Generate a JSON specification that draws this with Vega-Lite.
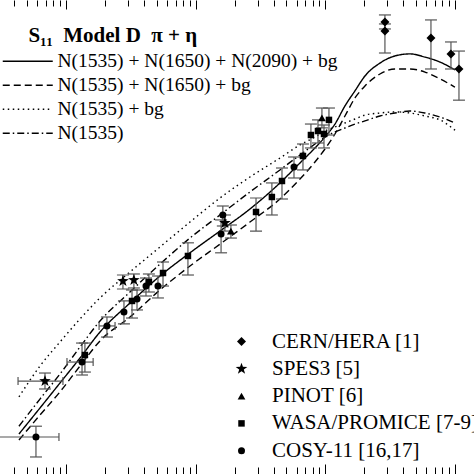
{
  "$schema": "https://vega.github.io/schema/vega-lite/v6.json",
  "width": 474,
  "height": 474,
  "autosize": "none",
  "padding": 0,
  "background": "white",
  "config": {
    "view": {"stroke": null},
    "axis": {"tickColor": "black", "tickWidth": 1}
  },
  "datasets": {
    "crv": [
      {"m": "N(1535) + N(1650) + N(2090) + bg", "q": 0.434, "s": 0.1047},
      {"m": "N(1535) + N(1650) + N(2090) + bg", "q": 0.63, "s": 0.156},
      {"m": "N(1535) + N(1650) + N(2090) + bg", "q": 0.899, "s": 0.229},
      {"m": "N(1535) + N(1650) + N(2090) + bg", "q": 1.282, "s": 0.336},
      {"m": "N(1535) + N(1650) + N(2090) + bg", "q": 1.829, "s": 0.501},
      {"m": "N(1535) + N(1650) + N(2090) + bg", "q": 3.115, "s": 0.782},
      {"m": "N(1535) + N(1650) + N(2090) + bg", "q": 5.305, "s": 1.184},
      {"m": "N(1535) + N(1650) + N(2090) + bg", "q": 9.039, "s": 1.69},
      {"m": "N(1535) + N(1650) + N(2090) + bg", "q": 15.39, "s": 2.36},
      {"m": "N(1535) + N(1650) + N(2090) + bg", "q": 26.22, "s": 3.311},
      {"m": "N(1535) + N(1650) + N(2090) + bg", "q": 44.66, "s": 4.94},
      {"m": "N(1535) + N(1650) + N(2090) + bg", "q": 63.71, "s": 6.71},
      {"m": "N(1535) + N(1650) + N(2090) + bg", "q": 83.14, "s": 8.45},
      {"m": "N(1535) + N(1650) + N(2090) + bg", "q": 99.29, "s": 10},
      {"m": "N(1535) + N(1650) + N(2090) + bg", "q": 118.6, "s": 12.2},
      {"m": "N(1535) + N(1650) + N(2090) + bg", "q": 141.6, "s": 16.1},
      {"m": "N(1535) + N(1650) + N(2090) + bg", "q": 169.1, "s": 20.3},
      {"m": "N(1535) + N(1650) + N(2090) + bg", "q": 202, "s": 25.5},
      {"m": "N(1535) + N(1650) + N(2090) + bg", "q": 263.7, "s": 31.1},
      {"m": "N(1535) + N(1650) + N(2090) + bg", "q": 344, "s": 34.7},
      {"m": "N(1535) + N(1650) + N(2090) + bg", "q": 449, "s": 35.8},
      {"m": "N(1535) + N(1650) + N(2090) + bg", "q": 586.2, "s": 34.1},
      {"m": "N(1535) + N(1650) + N(2090) + bg", "q": 764.9, "s": 31.6},
      {"m": "N(1535) + N(1650) + N(2090) + bg", "q": 998.2, "s": 28},
      {"m": "N(1535) + N(1650) + bg", "q": 0.434, "s": 0.0955},
      {"m": "N(1535) + N(1650) + bg", "q": 0.63, "s": 0.14},
      {"m": "N(1535) + N(1650) + bg", "q": 0.899, "s": 0.2},
      {"m": "N(1535) + N(1650) + bg", "q": 1.282, "s": 0.297},
      {"m": "N(1535) + N(1650) + bg", "q": 1.829, "s": 0.437},
      {"m": "N(1535) + N(1650) + bg", "q": 3.115, "s": 0.631},
      {"m": "N(1535) + N(1650) + bg", "q": 5.305, "s": 0.955},
      {"m": "N(1535) + N(1650) + bg", "q": 9.039, "s": 1.38},
      {"m": "N(1535) + N(1650) + bg", "q": 15.39, "s": 1.93},
      {"m": "N(1535) + N(1650) + bg", "q": 26.22, "s": 2.71},
      {"m": "N(1535) + N(1650) + bg", "q": 44.66, "s": 3.86},
      {"m": "N(1535) + N(1650) + bg", "q": 63.71, "s": 5.25},
      {"m": "N(1535) + N(1650) + bg", "q": 83.14, "s": 6.81},
      {"m": "N(1535) + N(1650) + bg", "q": 99.29, "s": 8.32},
      {"m": "N(1535) + N(1650) + bg", "q": 118.6, "s": 10.47},
      {"m": "N(1535) + N(1650) + bg", "q": 141.6, "s": 13.8},
      {"m": "N(1535) + N(1650) + bg", "q": 169.1, "s": 18.2},
      {"m": "N(1535) + N(1650) + bg", "q": 202, "s": 21.88},
      {"m": "N(1535) + N(1650) + bg", "q": 263.7, "s": 26.3},
      {"m": "N(1535) + N(1650) + bg", "q": 344, "s": 28.4},
      {"m": "N(1535) + N(1650) + bg", "q": 449, "s": 28.4},
      {"m": "N(1535) + N(1650) + bg", "q": 586.2, "s": 27.1},
      {"m": "N(1535) + N(1650) + bg", "q": 764.9, "s": 24.4},
      {"m": "N(1535) + N(1650) + bg", "q": 998.2, "s": 21.5},
      {"m": "N(1535) + bg", "q": 0.434, "s": 0.185},
      {"m": "N(1535) + bg", "q": 0.63, "s": 0.297},
      {"m": "N(1535) + bg", "q": 0.899, "s": 0.43},
      {"m": "N(1535) + bg", "q": 1.282, "s": 0.612},
      {"m": "N(1535) + bg", "q": 1.829, "s": 0.845},
      {"m": "N(1535) + bg", "q": 3.115, "s": 1.259},
      {"m": "N(1535) + bg", "q": 5.305, "s": 1.848},
      {"m": "N(1535) + bg", "q": 9.039, "s": 2.71},
      {"m": "N(1535) + bg", "q": 15.39, "s": 3.92},
      {"m": "N(1535) + bg", "q": 26.22, "s": 5.41},
      {"m": "N(1535) + bg", "q": 44.66, "s": 7.24},
      {"m": "N(1535) + bg", "q": 63.71, "s": 8.85},
      {"m": "N(1535) + bg", "q": 83.14, "s": 10},
      {"m": "N(1535) + bg", "q": 99.29, "s": 10.96},
      {"m": "N(1535) + bg", "q": 118.6, "s": 11.66},
      {"m": "N(1535) + bg", "q": 141.6, "s": 12.4},
      {"m": "N(1535) + bg", "q": 169.1, "s": 13.18},
      {"m": "N(1535) + bg", "q": 202, "s": 14},
      {"m": "N(1535) + bg", "q": 263.7, "s": 14.45},
      {"m": "N(1535) + bg", "q": 344, "s": 14.7},
      {"m": "N(1535) + bg", "q": 449, "s": 14.45},
      {"m": "N(1535) + bg", "q": 586.2, "s": 13.8},
      {"m": "N(1535) + bg", "q": 764.9, "s": 13},
      {"m": "N(1535) + bg", "q": 998.2, "s": 11.1},
      {"m": "N(1535)", "q": 0.434, "s": 0.118},
      {"m": "N(1535)", "q": 0.63, "s": 0.179},
      {"m": "N(1535)", "q": 0.899, "s": 0.263},
      {"m": "N(1535)", "q": 1.282, "s": 0.398},
      {"m": "N(1535)", "q": 1.829, "s": 0.593},
      {"m": "N(1535)", "q": 3.115, "s": 0.926},
      {"m": "N(1535)", "q": 5.305, "s": 1.42},
      {"m": "N(1535)", "q": 9.039, "s": 2.12},
      {"m": "N(1535)", "q": 15.39, "s": 3.02},
      {"m": "N(1535)", "q": 26.22, "s": 4.3},
      {"m": "N(1535)", "q": 44.66, "s": 6.03},
      {"m": "N(1535)", "q": 63.71, "s": 7.59},
      {"m": "N(1535)", "q": 83.14, "s": 8.98},
      {"m": "N(1535)", "q": 99.29, "s": 10},
      {"m": "N(1535)", "q": 118.6, "s": 10.8},
      {"m": "N(1535)", "q": 141.6, "s": 11.48},
      {"m": "N(1535)", "q": 169.1, "s": 12.2},
      {"m": "N(1535)", "q": 202, "s": 12.8},
      {"m": "N(1535)", "q": 263.7, "s": 13.8},
      {"m": "N(1535)", "q": 344, "s": 14.45},
      {"m": "N(1535)", "q": 449, "s": 14.9},
      {"m": "N(1535)", "q": 586.2, "s": 14.45},
      {"m": "N(1535)", "q": 764.9, "s": 13.6},
      {"m": "N(1535)", "q": 998.2, "s": 12.4}
    ],
    "pts": [
      {"set": "CERN/HERA [1]", "q": 288, "s": 58.4, "slo": 52.5, "shi": 65.1},
      {"set": "CERN/HERA [1]", "q": 288, "s": 50.9, "slo": 36.3, "shi": 56.7},
      {"set": "CERN/HERA [1]", "q": 652, "s": 45.7, "slo": 28.4, "shi": 60.3},
      {"set": "CERN/HERA [1]", "q": 930, "s": 35.8, "slo": 28.4, "shi": 43},
      {"set": "CERN/HERA [1]", "q": 1072, "s": 28.4, "slo": 17.6, "shi": 37.4},
      {"set": "SPES3 [5]", "q": 0.689, "s": 0.236, "slo": 0.209, "shi": 0.267, "qlo": 0.427, "qhi": 0.948},
      {"set": "SPES3 [5]", "q": 2.75, "s": 1.096, "slo": 0.97, "shi": 1.202},
      {"set": "SPES3 [5]", "q": 3.34, "s": 1.113, "slo": 0.985, "shi": 1.221},
      {"set": "SPES3 [5]", "q": 16.8, "s": 2.67, "slo": 2.36, "shi": 3.02},
      {"set": "PINOT [6]", "q": 18.7, "s": 2.36, "slo": 2.12, "shi": 2.59},
      {"set": "PINOT [6]", "q": 94.1, "s": 13.4, "slo": 11.5, "shi": 15.6},
      {"set": "WASA/PROMICE [7-9]", "q": 1.4, "s": 0.352, "slo": 0.271, "shi": 0.423},
      {"set": "WASA/PROMICE [7-9]", "q": 3.23, "s": 0.807, "slo": 0.621, "shi": 0.955},
      {"set": "WASA/PROMICE [7-9]", "q": 4.36, "s": 1.08, "slo": 0.926, "shi": 1.221},
      {"set": "WASA/PROMICE [7-9]", "q": 5.6, "s": 1.24, "slo": 1.015, "shi": 1.468},
      {"set": "WASA/PROMICE [7-9]", "q": 8.72, "s": 1.61, "slo": 1.202, "shi": 1.97},
      {"set": "WASA/PROMICE [7-9]", "q": 29.2, "s": 3.162, "slo": 2.36, "shi": 3.92},
      {"set": "WASA/PROMICE [7-9]", "q": 38.7, "s": 3.981, "slo": 3.02, "shi": 4.94},
      {"set": "WASA/PROMICE [7-9]", "q": 46.3, "s": 5.089, "slo": 3.86, "shi": 6.212},
      {"set": "WASA/PROMICE [7-9]", "q": 67.2, "s": 7.47, "slo": 6.03, "shi": 8.98},
      {"set": "WASA/PROMICE [7-9]", "q": 77.4, "s": 10.31, "slo": 8.45, "shi": 12.2},
      {"set": "WASA/PROMICE [7-9]", "q": 87.7, "s": 10.96, "slo": 9.12, "shi": 13},
      {"set": "WASA/PROMICE [7-9]", "q": 97.6, "s": 10.47, "slo": 8.45, "shi": 12.02},
      {"set": "WASA/PROMICE [7-9]", "q": 106.6, "s": 13, "slo": 10.31, "shi": 15.6},
      {"set": "COSY-11 [16,17]", "q": 0.587, "s": 0.1, "slo": 0.0736, "shi": 0.118, "qlo": 0.3, "qhi": 0.883},
      {"set": "COSY-11 [16,17]", "q": 1.33, "s": 0.316, "slo": 0.259, "shi": 0.423, "qlo": 1.018, "qhi": 1.62},
      {"set": "COSY-11 [16,17]", "q": 2.07, "s": 0.55, "slo": 0.464, "shi": 0.631, "qlo": 1.8, "qhi": 2.39},
      {"set": "COSY-11 [16,17]", "q": 2.8, "s": 0.681, "slo": 0.567, "shi": 0.807},
      {"set": "COSY-11 [16,17]", "q": 3.53, "s": 0.832, "slo": 0.703, "shi": 0.955},
      {"set": "COSY-11 [16,17]", "q": 4.14, "s": 1.015, "slo": 0.871, "shi": 1.148},
      {"set": "COSY-11 [16,17]", "q": 5.12, "s": 1.015, "slo": 0.845, "shi": 1.184},
      {"set": "COSY-11 [16,17]", "q": 15.7, "s": 2.26, "slo": 1.69, "shi": 2.8},
      {"set": "COSY-11 [16,17]", "q": 16.2, "s": 3.02, "slo": 2.551, "shi": 3.467},
      {"set": "COSY-11 [16,17]", "q": 57.3, "s": 6.31, "slo": 5.33, "shi": 7.356}
    ]
  },
  "resolve": {"axis": {"x": "independent"}},
  "layer": [
    {
      "data": {"name": "crv"},
      "mark": {"type": "line", "color": "black", "strokeWidth": 1.4, "interpolate": "monotone"},
      "encoding": {
        "x": {
          "field": "q", "type": "quantitative",
          "scale": {"type": "log", "domain": [0.31, 1400], "nice": false},
          "axis": {"orient": "bottom", "values": [1, 10, 100, 1000], "tickSize": -10, "labels": false, "domain": false, "grid": false, "title": null}
        },
        "y": {
          "field": "s", "type": "quantitative",
          "scale": {"type": "log", "domain": [0.05667, 81.89], "nice": false},
          "axis": null
        },
        "strokeDash": {
          "field": "m", "type": "nominal",
          "scale": {
            "domain": ["N(1535) + N(1650) + N(2090) + bg", "N(1535) + N(1650) + bg", "N(1535) + bg", "N(1535)"],
            "range": [[1, 0], [7, 4], [1.5, 3.5], [7, 3, 1.5, 3]]
          },
          "legend": {
            "orient": "none",
            "legendX": 18,
            "legendY": 25,
            "title": "\u200b\u00a0\u00a0S\u2081\u2081\u00a0\u00a0Model D\u00a0\u00a0\u03c0 + \u03b7",
            "titleFont": "Liberation Serif",
            "titleFontSize": 21,
            "titleFontWeight": "bold",
            "titleColor": "black",
            "titlePadding": 5.5,
            "titleLimit": 400,
            "labelFont": "Liberation Serif",
            "labelFontSize": 19.5,
            "labelColor": "black",
            "labelLimit": 400,
            "labelOffset": 20,
            "symbolType": "M-5,0H5",
            "symbolSize": 100,
            "symbolStrokeWidth": 1.4,
            "symbolStrokeColor": "black",
            "rowPadding": 3
          }
        }
      }
    },
    {
      "data": {"name": "pts"},
      "mark": {"type": "rule", "color": "#555555", "strokeWidth": 1.2},
      "encoding": {
        "x": {
          "field": "q", "type": "quantitative",
          "scale": {"type": "log", "domain": [0.31, 1400], "nice": false},
          "axis": {"orient": "bottom", "values": [0.4, 0.5, 0.6, 0.7, 0.8, 0.9, 2, 3, 4, 5, 6, 7, 8, 9, 20, 30, 40, 50, 60, 70, 80, 90, 200, 300, 400, 500, 600, 700, 800, 900], "tickSize": -7, "labels": false, "domain": false, "grid": false, "title": null}
        },
        "y": {
          "field": "slo", "type": "quantitative",
          "scale": {"type": "log", "domain": [0.05667, 81.89], "nice": false},
          "axis": null
        },
        "y2": {"field": "shi"}
      }
    },
    {
      "data": {"name": "pts"},
      "transform": [{"fold": ["slo", "shi"], "as": ["k", "v"]}],
      "mark": {"type": "tick", "orient": "horizontal", "color": "#555555", "opacity": 1, "size": 12, "thickness": 1.2},
      "encoding": {
        "x": {
          "field": "q", "type": "quantitative",
          "scale": {"type": "log", "domain": [0.31, 1400], "nice": false},
          "axis": {"orient": "top", "values": [0.4, 0.5, 0.6, 0.7, 0.8, 0.9, 2, 3, 4, 5, 6, 7, 8, 9, 20, 30, 40, 50, 60, 70, 80, 90, 200, 300, 400, 500, 600, 700, 800, 900], "tickSize": -6, "labels": false, "domain": false, "grid": false, "title": null}
        },
        "y": {
          "field": "v", "type": "quantitative",
          "scale": {"type": "log", "domain": [0.05667, 81.89], "nice": false},
          "axis": null
        }
      }
    },
    {
      "data": {"name": "pts"},
      "transform": [{"filter": "isValid(datum.qlo)"}],
      "mark": {"type": "rule", "color": "#555555", "strokeWidth": 1.2},
      "encoding": {
        "x": {
          "field": "qlo", "type": "quantitative",
          "scale": {"type": "log", "domain": [0.31, 1400], "nice": false},
          "axis": null
        },
        "x2": {"field": "qhi"},
        "y": {
          "field": "s", "type": "quantitative",
          "scale": {"type": "log", "domain": [0.05667, 81.89], "nice": false},
          "axis": null
        }
      }
    },
    {
      "data": {"name": "pts"},
      "transform": [{"filter": "isValid(datum.qlo)"}, {"fold": ["qlo", "qhi"], "as": ["k", "v"]}],
      "mark": {"type": "tick", "orient": "vertical", "color": "#555555", "opacity": 1, "size": 8, "thickness": 1.2},
      "encoding": {
        "x": {
          "field": "v", "type": "quantitative",
          "scale": {"type": "log", "domain": [0.31, 1400], "nice": false},
          "axis": null
        },
        "y": {
          "field": "s", "type": "quantitative",
          "scale": {"type": "log", "domain": [0.05667, 81.89], "nice": false},
          "axis": null
        }
      }
    },
    {
      "data": {"name": "pts"},
      "mark": {"type": "point", "filled": true, "color": "black", "opacity": 1, "strokeWidth": 0},
      "encoding": {
        "x": {
          "field": "q", "type": "quantitative",
          "scale": {"type": "log", "domain": [0.31, 1400], "nice": false},
          "axis": {"orient": "top", "values": [1, 10, 100, 1000], "tickSize": -9, "labels": false, "domain": false, "grid": false, "title": null}
        },
        "y": {
          "field": "s", "type": "quantitative",
          "scale": {"type": "log", "domain": [0.05667, 81.89], "nice": false},
          "axis": null
        },
        "shape": {
          "field": "set", "type": "nominal",
          "scale": {
            "domain": ["CERN/HERA [1]", "SPES3 [5]", "PINOT [6]", "WASA/PROMICE [7-9]", "COSY-11 [16,17]"],
            "range": ["diamond", "M0,-1L0.235,-0.324L0.951,-0.309L0.38,0.124L0.588,0.809L0,0.4L-0.588,0.809L-0.38,0.124L-0.951,-0.309L-0.235,-0.324Z", "triangle-up", "square", "circle"]
          },
          "legend": {
            "orient": "none",
            "legendX": 231,
            "legendY": 331,
            "title": null,
            "labelFont": "Liberation Serif",
            "labelFontSize": 21,
            "labelColor": "black",
            "labelLimit": 400,
            "labelOffset": 20,
            "symbolFillColor": "black",
            "symbolStrokeColor": "black",
            "symbolStrokeWidth": 0,
            "symbolOpacity": 1,
            "rowPadding": 5.3
          }
        },
        "size": {
          "field": "set", "type": "nominal",
          "scale": {
            "type": "ordinal",
            "domain": ["CERN/HERA [1]", "SPES3 [5]", "PINOT [6]", "WASA/PROMICE [7-9]", "COSY-11 [16,17]"],
            "range": [80, 150, 60, 42, 49]
          }
        }
      }
    }
  ]
}
